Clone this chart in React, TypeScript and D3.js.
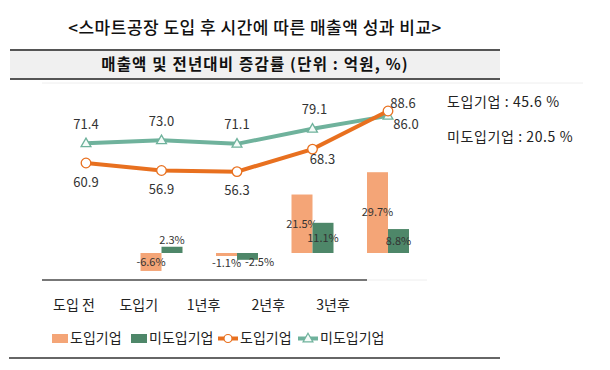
import React from "react";
import * as d3 from "d3";

// chart data
const categories = ["도입 전", "도입기", "1년후", "2년후", "3년후"];
const adoptSales = [60.9, 56.9, 56.3, 68.3, 88.6];
const nonAdoptSales = [71.4, 73.0, 71.1, 79.1, 86.0];
const adoptGrowth: (number | null)[] = [null, -6.6, -1.1, 21.5, 29.7];
const nonAdoptGrowth: (number | null)[] = [null, 2.3, -2.5, 11.1, 8.8];
const seriesNames = ["도입기업", "미도입기업"];
const avgGrowth = [45.6, 20.5];

const FONT = "'Noto Sans CJK KR', 'Noto Sans', sans-serif";
const C_BAR_A = "#F4A577";
const C_BAR_B = "#4E8769";
const C_LINE_A = "#E8701F";
const C_LINE_B = "#6FB29C";

const App: React.FC = () => {
  const width = 610;
  const height = 370;

  // x for the plotted marks and x for the category row underneath
  const x = d3.scalePoint<string>().domain(categories).range([86, 388]);
  const xLabel = d3.scalePoint<string>().domain(categories).range([74, 333]);
  const yLine = d3.scaleLinear().domain([0, 100]).range([277.3, 89.6]);
  const yBar = d3.scaleLinear().domain([0, 10]).range([253, 225.8]);
  const barW = 21;

  const line = d3
    .line<number>()
    .x((_, i) => x(categories[i])!)
    .y((d) => yLine(d));

  const tri = d3.symbol().type(d3.symbolTriangle).size(42)()!;

  const bars = (vals: (number | null)[], off: number, color: string) =>
    vals.map((v, i) => {
      if (v == null) return null;
      const cx = x(categories[i])! + off;
      const y0 = yBar(0);
      const y1 = yBar(v);
      const h = Math.abs(y1 - y0);
      let ly = (y0 + y1) / 2;
      if (h < 15) ly = v >= 0 ? y1 - 7 : y1 + 7;
      const lx = cx + barW / 2 + (h < 15 && v < 0 && off >= 0 ? 12 : 0);
      if (h < 15 && v < 0 && off >= 0) ly = y1 + 2;
      return (
        <g key={`${color}-${i}`}>
          <rect x={cx} y={Math.min(y0, y1)} width={barW} height={Math.max(h, 1.5)} fill={color} />
          <text
            x={lx}
            y={ly}
            dy="0.35em"
            textAnchor="middle"
            fontSize={11}
            fill="#333"
          >
            {`${v}%`}
          </text>
        </g>
      );
    });

  const last = categories.length - 1;

  return (
    <svg
      width={width}
      height={height}
      style={{ position: "absolute", left: 0, top: 0, background: "#fff" }}
      fontFamily={FONT}
    >
      {/* title */}
      <text x={255} y={28} dy="0.35em" textAnchor="middle" fontSize={17} fontWeight={500} letterSpacing={0.5} fill="#111">
        {"<스마트공장 도입 후 시간에 따른 매출액 성과 비교>"}
      </text>
      {/* header band */}
      <rect x={10} y={50} width={490} height={29} fill="#f0f0f0" />
      <line x1={10} x2={500} y1={50} y2={50} stroke="#555" strokeWidth={2} />
      <line x1={10} x2={500} y1={79} y2={79} stroke="#555" strokeWidth={2} />
      <text x={255} y={65} dy="0.35em" textAnchor="middle" fontSize={15.5} fontWeight={700} letterSpacing={1.2} fill="#111">
        매출액 및 전년대비 증감률 (단위 : 억원, %)
      </text>

      {/* plot frame lines */}
      <line x1={42} x2={583} y1={83} y2={83} stroke="#eee" strokeWidth={1} />
      <line x1={367} x2={427} y1={280} y2={280} stroke="#eee" strokeWidth={1} />
      <line x1={42} x2={367} y1={280} y2={280} stroke="#777" strokeWidth={2} />

      {/* bars */}
      {bars(adoptGrowth, -barW, C_BAR_A)}
      {bars(nonAdoptGrowth, 0, C_BAR_B)}

      {/* lines */}
      <path d={line(nonAdoptSales)!} fill="none" stroke={C_LINE_B} strokeWidth={4} />
      <path d={line(adoptSales)!} fill="none" stroke={C_LINE_A} strokeWidth={4} />
      {nonAdoptSales.map((v, i) => (
        <path
          key={`t${i}`}
          d={tri}
          transform={`translate(${x(categories[i])},${yLine(v) + 0.5})`}
          fill="#f4fbf8"
          stroke={C_LINE_B}
          strokeWidth={1.3}
        />
      ))}
      {adoptSales.map((v, i) => (
        <circle
          key={`c${i}`}
          cx={x(categories[i])}
          cy={yLine(v)}
          r={4.8}
          fill="#fff"
          stroke={C_LINE_A}
          strokeWidth={1.3}
        />
      ))}

      {/* line value labels */}
      {nonAdoptSales.map((v, i) => (
        <text
          key={`tl${i}`}
          x={x(categories[i])! + (i === last ? 18 : i === 3 ? 2 : 0)}
          y={yLine(v) + (i === last ? 9 : -19)}
          dy="0.35em"
          textAnchor="middle"
          fontSize={13}
          fill="#333"
        >
          {v.toFixed(1)}
        </text>
      ))}
      {adoptSales.map((v, i) => (
        <text
          key={`cl${i}`}
          x={x(categories[i])! + (i === last ? 15 : i === 3 ? 10 : 0)}
          y={yLine(v) + (i === last ? -8 : i === 3 ? 10 : 19)}
          dy="0.35em"
          textAnchor="middle"
          fontSize={13}
          fill="#333"
        >
          {v.toFixed(1)}
        </text>
      ))}

      {/* average growth notes */}
      {seriesNames.map((n, i) => (
        <text key={`n${i}`} x={447} y={102 + i * 35} dy="0.35em" fontSize={14} letterSpacing={0.6} fill="#222">
          {`${n} : ${avgGrowth[i]} %`}
        </text>
      ))}

      {/* category row */}
      {categories.map((c) => (
        <text key={c} x={xLabel(c)} y={305} dy="0.35em" textAnchor="middle" fontSize={14} fill="#222">
          {c}
        </text>
      ))}

      {/* legend */}
      <g fontSize={14} fill="#222">
        <rect x={52} y={334} width={16} height={9} fill={C_BAR_A} />
        <text x={70} y={338.5} dy="0.35em">{seriesNames[0]}</text>
        <rect x={131} y={334} width={16} height={9} fill={C_BAR_B} />
        <text x={149} y={338.5} dy="0.35em">{seriesNames[1]}</text>
        <line x1={218} x2={238} y1={338.5} y2={338.5} stroke={C_LINE_A} strokeWidth={4} />
        <circle cx={228} cy={338.5} r={4} fill="#fff" stroke={C_LINE_A} strokeWidth={1.2} />
        <text x={240} y={338.5} dy="0.35em">{seriesNames[0]}</text>
        <line x1={298} x2={318} y1={338.5} y2={338.5} stroke={C_LINE_B} strokeWidth={4} />
        <path d={tri} transform="translate(308,339)" fill="#f4fbf8" stroke={C_LINE_B} strokeWidth={1.2} />
        <text x={320} y={338.5} dy="0.35em">{seriesNames[1]}</text>
      </g>

      {/* bottom rule */}
      <line x1={9} x2={500} y1={358} y2={358} stroke="#333" strokeWidth={1.5} />
    </svg>
  );
};

export default App;
